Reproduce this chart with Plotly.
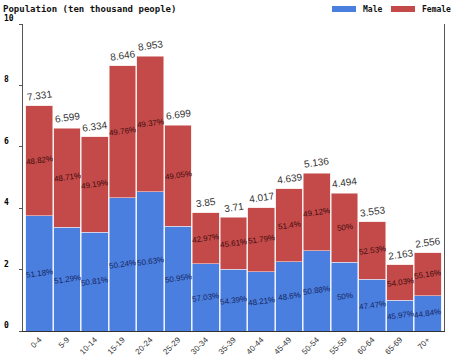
import plotly.graph_objects as go

categories = ["0-4", "5-9", "10-14", "15-19", "20-24", "25-29", "30-34", "35-39",
              "40-44", "45-49", "50-54", "55-59", "60-64", "65-69", "70+"]
totals = [7.331, 6.599, 6.334, 8.646, 8.953, 6.699, 3.85, 3.71,
          4.017, 4.639, 5.136, 4.494, 3.553, 2.163, 2.556]
male_pct = [51.18, 51.29, 50.81, 50.24, 50.63, 50.95, 57.03, 54.39,
            48.21, 48.6, 50.88, 50, 47.47, 45.97, 44.84]
female_pct = [48.82, 48.71, 49.19, 49.76, 49.37, 49.05, 42.97, 45.61,
              51.79, 51.4, 49.12, 50, 52.53, 54.03, 55.16]
yticks = [0, 2, 4, 6, 8, 10]

male = [t * p / 100 for t, p in zip(totals, male_pct)]
female = [t * p / 100 for t, p in zip(totals, female_pct)]

BLUE = "#4a7fe0"
RED = "#c44a4a"

fig = go.Figure()
fig.add_trace(go.Bar(x=categories, y=male, name="Male", marker=dict(color=BLUE, line=dict(color="#dfe8ff", width=0.6))))
fig.add_trace(go.Bar(x=categories, y=female, name="Female", marker=dict(color=RED, line=dict(color="#f5dcdc", width=0.6))))

ann = []
lab_font = "Liberation Sans, Arial, sans-serif"
for c, m, f, t, mp, fp in zip(categories, male, female, totals, male_pct, female_pct):
    ann.append(dict(x=c, y=m / 2, text=f"{mp:g}%", showarrow=False, textangle=-8,
                    font=dict(family=lab_font, size=8, color="#17265e")))
    ann.append(dict(x=c, y=m + f / 2, text=f"{fp:g}%", showarrow=False, textangle=-8,
                    font=dict(family=lab_font, size=8, color="#420c0c")))
    ann.append(dict(x=c, y=t, text=f"{t:g}", showarrow=False, textangle=-8, yanchor="bottom", yshift=1,
                    font=dict(family=lab_font, size=10, color="#333333")))
for v in yticks:
    ann.append(dict(xref="paper", x=0, xshift=-21, xanchor="left", y=v, yref="y",
                    yanchor="bottom", yshift=-1, text=f"<b>{v}</b>", showarrow=False,
                    font=dict(family="DejaVu Sans Mono", size=8, color="#000000")))

# title and legend
ann.append(dict(xref="paper", yref="paper", x=0, xshift=-22, y=1, yshift=15, xanchor="left", yanchor="middle",
                text="<b>Population (ten thousand people)</b>", showarrow=False,
                font=dict(family="DejaVu Sans Mono", size=9, color="#111111")))
ann.append(dict(xref="paper", yref="paper", x=(361 - 23) / 421, y=1, yshift=15, xanchor="left", yanchor="middle",
                text="<b>Male</b>", showarrow=False, font=dict(family="DejaVu Sans Mono", size=8, color="#111111")))
ann.append(dict(xref="paper", yref="paper", x=(420 - 23) / 421, y=1, yshift=15, xanchor="left", yanchor="middle",
                text="<b>Female</b>", showarrow=False, font=dict(family="DejaVu Sans Mono", size=8, color="#111111")))

shapes = [
    dict(type="rect", xref="paper", yref="paper", x0=(332 - 23) / 421, x1=(356 - 23) / 421,
         y0=1 + 12 / 307, y1=1 + 18 / 307, fillcolor=BLUE, line=dict(width=0)),
    dict(type="rect", xref="paper", yref="paper", x0=(391 - 23) / 421, x1=(415 - 23) / 421,
         y0=1 + 12 / 307, y1=1 + 18 / 307, fillcolor=RED, line=dict(width=0)),
]

fig.update_layout(
    barmode="stack", bargap=0.03, showlegend=False, hovermode=False,
    width=474, height=355,
    margin=dict(l=23, r=30, t=24, b=24, autoexpand=False),
    paper_bgcolor="white", plot_bgcolor="white",
    annotations=ann, shapes=shapes,
    xaxis=dict(showgrid=False, showline=True, linecolor="#333333", linewidth=1, automargin=False,
               tickangle=-45, tickfont=dict(family=lab_font, size=8, color="#333333"),
               ticks="", mirror=False),
    yaxis=dict(range=[0, 10], tickvals=yticks, showticklabels=False, showgrid=False, automargin=False,
               showline=True, linecolor="#555555", linewidth=1, ticks="outside", ticklen=3,
               tickcolor="#555555", mirror=True, zeroline=False),
)
fig.write_html("out.html", config={"displayModeBar": False, "staticPlot": True},
               post_script="document.body.style.margin='0';document.body.style.padding='0';"
                           "document.documentElement.style.overflow='hidden';")
